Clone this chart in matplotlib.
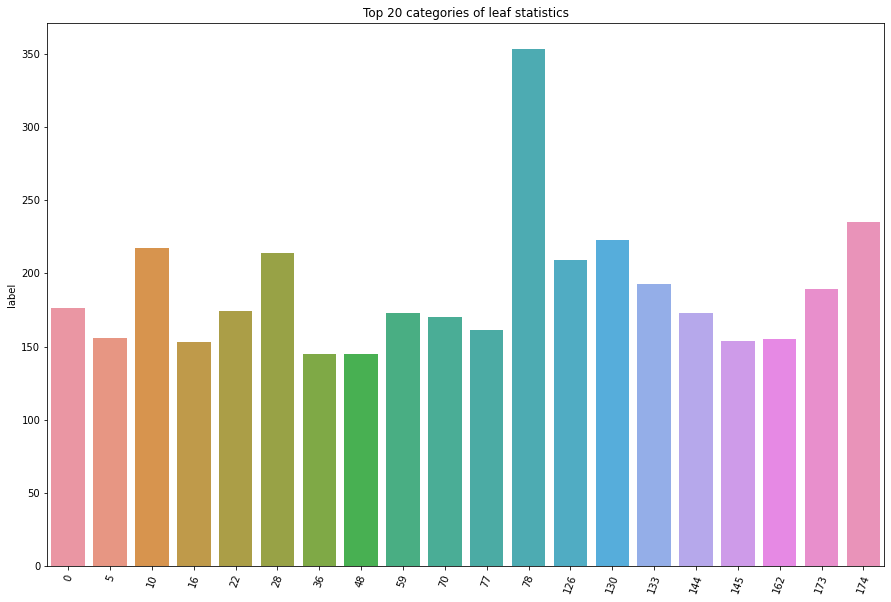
import matplotlib
matplotlib.use("Agg")
import matplotlib.pyplot as plt
import seaborn as sns

categorias = ["0", "5", "10", "16", "22", "28", "36", "48", "59", "70",
              "77", "78", "126", "130", "133", "144", "145", "162", "173", "174"]
conteos = [176, 156, 217, 153, 174, 214, 145, 145, 173, 170,
           161, 353, 209, 223, 193, 173, 154, 155, 189, 235]

# paleta como la de seaborn viejo: husl con l=.7 y saturacion .75
colores = [sns.desaturate(c, 0.75) for c in sns.husl_palette(len(categorias), l=0.7)]

fig = plt.figure(figsize=(891 / 72, 602 / 72), dpi=72)
ax = fig.add_axes([47.3 / 891, 1 - 566.3 / 602, (884.3 - 47.3) / 891, (566.3 - 23.3) / 602])

posiciones = list(range(len(categorias)))
ax.bar(posiciones, conteos, width=0.8, color=colores)
ax.set_xlim(-0.5, len(categorias) - 0.5)
ax.set_xticks(posiciones)
ax.set_xticklabels(categorias, rotation=70)
ax.set_ylabel("label")
ax.set_title("Top 20 categories of leaf statistics")

fig.savefig("out.png", dpi=72)
